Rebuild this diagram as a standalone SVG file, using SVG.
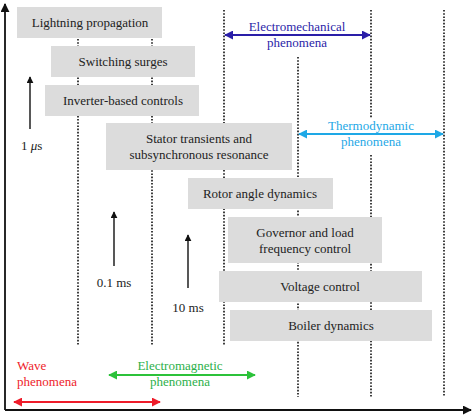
<svg xmlns="http://www.w3.org/2000/svg" width="474" height="415" viewBox="0 0 474 415">
<style>
text{font-family:"Liberation Serif","Times New Roman",serif;font-size:13px;fill:#222;text-anchor:middle}
.box{fill:#dcdcdc}
.dot{stroke:#111;stroke-width:1.6;stroke-dasharray:1.6 1.6;fill:none}
.ax{stroke:#111;stroke-width:1.8;fill:none}
.up{stroke:#111;stroke-width:1.4;fill:none}
</style>
<defs>
<marker id="ah" viewBox="0 0 10 10" refX="9" refY="5" markerWidth="5" markerHeight="5" orient="auto-start-reverse"><path d="M0,0L10,5L0,10z" fill="#111"/></marker>
<marker id="ab" viewBox="0 0 10 10" refX="9" refY="5" markerWidth="5" markerHeight="5" orient="auto-start-reverse"><path d="M0,0L10,5L0,10z" fill="#2a1ea8"/></marker>
<marker id="ac" viewBox="0 0 10 10" refX="9" refY="5" markerWidth="5" markerHeight="5" orient="auto-start-reverse"><path d="M0,0L10,5L0,10z" fill="#1ea8e6"/></marker>
<marker id="ag" viewBox="0 0 10 10" refX="9" refY="5" markerWidth="5" markerHeight="5" orient="auto-start-reverse"><path d="M0,0L10,5L0,10z" fill="#2cc23a"/></marker>
<marker id="ar" viewBox="0 0 10 10" refX="9" refY="5" markerWidth="5" markerHeight="5" orient="auto-start-reverse"><path d="M0,0L10,5L0,10z" fill="#ee1c2a"/></marker>
</defs>
<rect width="474" height="415" fill="#fff"/>
<g id="connectors">
<line class="dot" x1="78" y1="39" x2="78" y2="345"/>
<line class="dot" x1="152" y1="39" x2="152" y2="345"/>
<line class="dot" x1="224" y1="10" x2="224" y2="345"/>
<line class="dot" x1="298" y1="57" x2="298" y2="397"/>
<line class="dot" x1="371" y1="10" x2="371" y2="118"/>
<line class="dot" x1="371" y1="155" x2="371" y2="397"/>
<line class="dot" x1="444" y1="10" x2="444" y2="397"/>
<line class="ax" x1="5" y1="410" x2="5" y2="4" marker-end="url(#ah)"/>
<line class="ax" x1="5" y1="410" x2="471" y2="410" marker-end="url(#ah)"/>
<line class="up" x1="30" y1="129" x2="30" y2="77" marker-end="url(#ah)"/>
<line class="up" x1="114" y1="266" x2="114" y2="212" marker-end="url(#ah)"/>
<line class="up" x1="188" y1="288" x2="188" y2="235" marker-end="url(#ah)"/>
<line x1="225" y1="35" x2="370" y2="35" stroke="#2a1ea8" stroke-width="1.8" marker-start="url(#ab)" marker-end="url(#ab)"/>
<line x1="299" y1="134" x2="443" y2="134" stroke="#1ea8e6" stroke-width="1.8" marker-start="url(#ac)" marker-end="url(#ac)"/>
<line x1="109" y1="375" x2="255" y2="375" stroke="#2cc23a" stroke-width="1.8" marker-start="url(#ag)" marker-end="url(#ag)"/>
<line x1="14" y1="402" x2="160" y2="402" stroke="#ee1c2a" stroke-width="1.8" marker-start="url(#ar)" marker-end="url(#ar)"/>
</g>
<g id="lightning"><rect class="box" x="17" y="7" width="145" height="31"/><text x="90" y="27">Lightning propagation</text></g>
<g id="switching"><rect class="box" x="51" y="46" width="144" height="31"/><text x="123" y="66">Switching surges</text></g>
<g id="inverter"><rect class="box" x="45" y="85" width="154" height="31"/><text x="123" y="105">Inverter-based controls</text></g>
<g id="stator"><rect class="box" x="106" y="123" width="186" height="47"/><text x="199" y="143">Stator transients and</text><text x="199" y="159">subsynchronous resonance</text></g>
<g id="rotor"><rect class="box" x="188" y="178" width="145" height="31"/><text x="260" y="198">Rotor angle dynamics</text></g>
<g id="governor"><rect class="box" x="228" y="217" width="154" height="46"/><text x="305" y="237">Governor and load</text><text x="305" y="253">frequency control</text></g>
<g id="voltage"><rect class="box" x="219" y="271" width="203" height="31"/><text x="320" y="291">Voltage control</text></g>
<g id="boiler"><rect class="box" x="230" y="310" width="202" height="31"/><text x="331" y="330">Boiler dynamics</text></g>
<g id="labels">
<text x="21" y="150" style="text-anchor:start">1 <tspan font-style="italic">μ</tspan>s</text>
<text x="114" y="287">0.1 ms</text>
<text x="188" y="312">10 ms</text>
<text x="297" y="31" style="fill:#2a1ea8">Electromechanical</text>
<text x="297" y="47" style="fill:#2a1ea8">phenomena</text>
<text x="371" y="130" style="fill:#1ea8e6">Thermodynamic</text>
<text x="371" y="146" style="fill:#1ea8e6">phenomena</text>
<text x="180" y="370" style="fill:#2cb04a">Electromagnetic</text>
<text x="180" y="386" style="fill:#2cb04a">phenomena</text>
<text x="17" y="370" style="fill:#ee1c2a;text-anchor:start">Wave</text>
<text x="17" y="386" style="fill:#ee1c2a;text-anchor:start">phenomena</text>
</g>
</svg>
